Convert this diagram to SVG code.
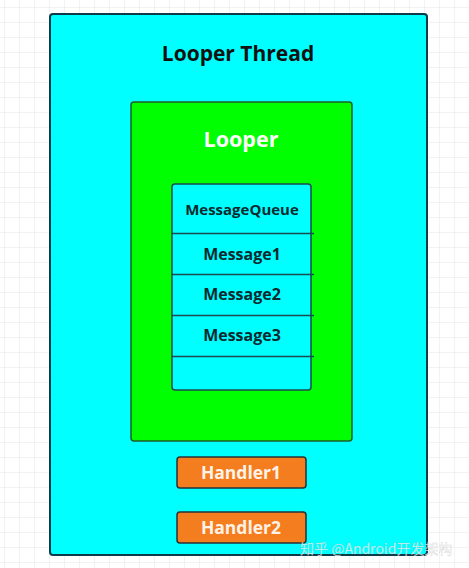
<svg xmlns="http://www.w3.org/2000/svg" width="469" height="568" viewBox="0 0 469 568">
  <defs>
    <pattern id="grid" x="4" y="7" width="15" height="15" patternUnits="userSpaceOnUse">
      <path d="M0 0H15M0 0V15" fill="none" stroke="#e6e6e6" stroke-width="1"/>
    </pattern>
  </defs>
  <style>
    .t{font-family:"Open Sans","Liberation Sans",sans-serif;font-weight:bold;text-anchor:middle}
    .row{stroke:#1d4a50;stroke-width:1.5}
    .h{fill:#f37d1f;stroke:#263238;stroke-width:1.5}
    .ht{fill:#fff2e6;font-size:17.5px}
  </style>
  <rect width="469" height="568" fill="#ffffff"/>
  <rect width="469" height="568" fill="url(#grid)"/>
  <g id="looper-thread">
    <rect x="50" y="14" width="377" height="541" rx="3" fill="#00ffff" stroke="#0f3a48" stroke-width="2"/>
    <text class="t" x="238" y="61" font-size="21" fill="#111">Looper Thread</text>
  </g>
  <g id="looper">
    <rect x="131" y="102" width="221" height="339" rx="3" fill="#00ff00" stroke="#1f5f2a" stroke-width="1.5"/>
    <text class="t" x="241" y="147" font-size="21.5" fill="#ffffff">Looper</text>
  </g>
  <g id="message-queue">
    <rect x="172" y="184" width="139" height="206" rx="3" fill="#00ffff" stroke="#1d4a50" stroke-width="1.5"/>
    <line class="row" x1="172" y1="233.5" x2="314" y2="233.5"/>
    <line class="row" x1="172" y1="274.5" x2="314" y2="274.5"/>
    <line class="row" x1="172" y1="315.5" x2="314" y2="315.5"/>
    <line class="row" x1="172" y1="356.5" x2="314" y2="356.5"/>
    <text class="t" x="242" y="215" font-size="15" fill="#0d2a30">MessageQueue</text>
    <text class="t" x="242" y="260" font-size="16" fill="#0d2a30">Message1</text>
    <text class="t" x="242" y="300" font-size="16" fill="#0d2a30">Message2</text>
    <text class="t" x="242" y="341" font-size="16" fill="#0d2a30">Message3</text>
  </g>
  <g id="handler1">
    <rect class="h" x="177" y="457" width="129" height="31" rx="3"/>
    <text class="t ht" x="241" y="479">Handler1</text>
  </g>
  <g id="handler2">
    <rect class="h" x="177" y="512" width="129" height="31" rx="3"/>
    <text class="t ht" x="241" y="534">Handler2</text>
  </g>
  <g id="connectors"/>
  <text x="300" y="554" font-family="Noto Sans CJK SC,sans-serif" font-size="14" fill="#ffffff" fill-opacity="0.75" stroke="#999" stroke-opacity="0.35" stroke-width="0.5">知乎 @Android开发架构</text>
</svg>
